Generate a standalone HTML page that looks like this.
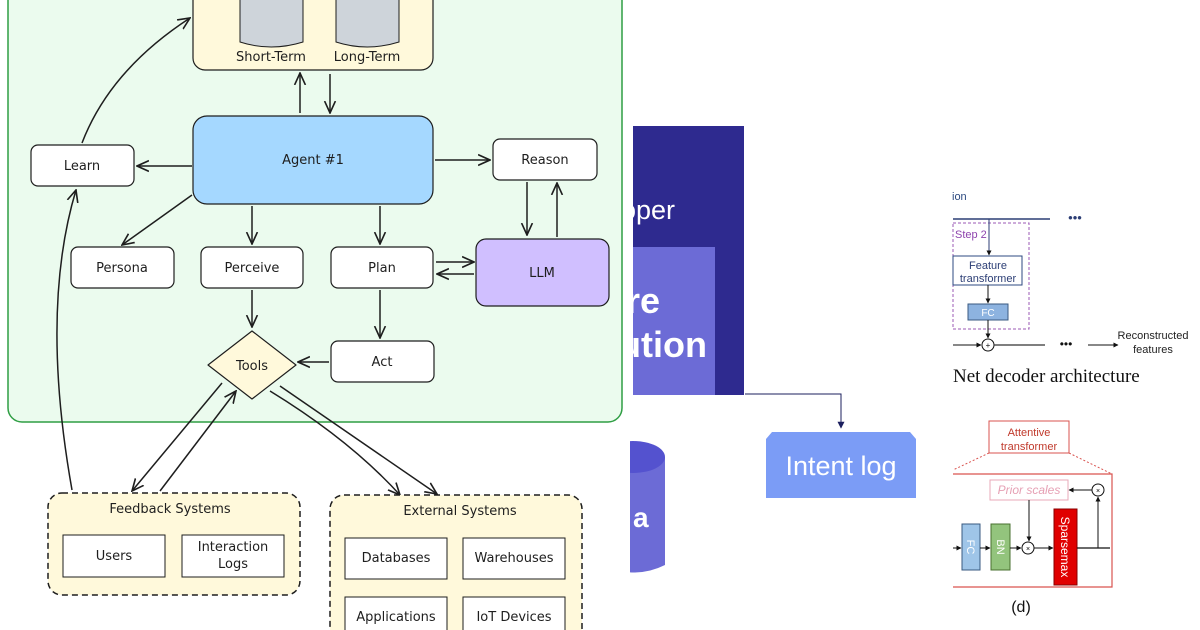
<!DOCTYPE html>
<html><head><meta charset="utf-8"><style>
html,body{margin:0;padding:0;background:#fff;width:1200px;height:630px;overflow:hidden}
svg{display:block}
.h{font-family:"Comic Sans MS","DejaVu Sans",sans-serif;font-size:13px;fill:#1e1e1e;text-anchor:middle}
.s{font-family:"Liberation Sans",sans-serif;text-anchor:middle}
</style></head><body>
<svg width="1200" height="630" viewBox="0 0 1200 630" xmlns="http://www.w3.org/2000/svg">
<defs>
<marker id="a" viewBox="0 0 12 12" refX="11" refY="6" markerWidth="13" markerHeight="13" markerUnits="userSpaceOnUse" orient="auto"><path d="M0,1 L11,6 L0,11" fill="none" stroke="#1e1e1e" stroke-width="1.5"/></marker>
<marker id="b" viewBox="0 0 10 10" refX="9" refY="5" markerWidth="7" markerHeight="7" markerUnits="userSpaceOnUse" orient="auto"><path d="M0,0 L10,5 L0,10z" fill="#1b1f5e"/></marker>
<marker id="c" viewBox="0 0 10 10" refX="9" refY="5" markerWidth="5" markerHeight="5" markerUnits="userSpaceOnUse" orient="auto"><path d="M0,0 L10,5 L0,10z" fill="#111"/></marker>
</defs>
<rect x="8" y="-20" width="614" height="442" rx="14" fill="#ebfbee" stroke="#2f9e44" stroke-width="1.5"/>
<rect x="193" y="-20" width="240" height="90" rx="12" fill="#fff9db" stroke="#1e1e1e" stroke-width="1.2"/>
<path d="M240,-5 V42 Q271,52 303,42 V-5z" fill="#ced4da" stroke="#1e1e1e" stroke-width="1"/>
<path d="M336,-5 V42 Q367,52 399,42 V-5z" fill="#ced4da" stroke="#1e1e1e" stroke-width="1"/>
<text class="h" x="271" y="61" font-size="11">Short-Term</text>
<text class="h" x="367" y="61" font-size="11">Long-Term</text>
<rect x="193" y="116" width="240" height="88" rx="14" fill="#a5d8ff" stroke="#1e1e1e" stroke-width="1.2"/>
<text class="h" x="313" y="164">Agent #1</text>
<g fill="#fff" stroke="#1e1e1e" stroke-width="1.2">
<rect x="31" y="145" width="103" height="41" rx="7"/>
<rect x="493" y="139" width="104" height="41" rx="7"/>
<rect x="71" y="247" width="103" height="41" rx="7"/>
<rect x="201" y="247" width="102" height="41" rx="7"/>
<rect x="331" y="247" width="102" height="41" rx="7"/>
<rect x="331" y="341" width="103" height="41" rx="7"/>
</g>
<rect x="476" y="239" width="133" height="67" rx="10" fill="#d0bfff" stroke="#1e1e1e" stroke-width="1.2"/>
<path d="M252,331 L296,365 L252,399 L208,365z" fill="#fff9db" stroke="#1e1e1e" stroke-width="1.2" stroke-linejoin="round"/>
<text class="h" x="82" y="170">Learn</text>
<text class="h" x="545" y="164">Reason</text>
<text class="h" x="122" y="272">Persona</text>
<text class="h" x="252" y="272">Perceive</text>
<text class="h" x="382" y="272">Plan</text>
<text class="h" x="382" y="366">Act</text>
<text class="h" x="542" y="277">LLM</text>
<text class="h" x="252" y="370">Tools</text>
<g fill="none" stroke="#1e1e1e" stroke-width="1.5" marker-end="url(#a)">
<path d="M300,113 V73"/>
<path d="M330,74 V113"/>
<path d="M192,166 H137"/>
<path d="M435,160 H490"/>
<path d="M192,195 L122,245"/>
<path d="M252,206 V244"/>
<path d="M380,206 V244"/>
<path d="M527,182 V235"/>
<path d="M557,237 V183"/>
<path d="M436,262 H474"/>
<path d="M474,274 H437"/>
<path d="M252,290 V327"/>
<path d="M380,290 V338"/>
<path d="M329,362 H298"/>
<path d="M82,143 Q110,70 190,18"/>
<path d="M72,490 Q40,310 76,190"/>
<path d="M222,383 L132,491"/>
<path d="M160,491 L236,391"/>
<path d="M270,391 Q350,440 400,495"/>
<path d="M280,386 L437,494"/>
</g>
<rect x="48" y="493" width="252" height="102" rx="14" fill="#fff9db" stroke="#1e1e1e" stroke-width="1.5" stroke-dasharray="6,4"/>
<text class="h" x="170" y="513">Feedback Systems</text>
<rect x="63" y="535" width="102" height="42" fill="#fff" stroke="#1e1e1e"/>
<rect x="182" y="535" width="102" height="42" fill="#fff" stroke="#1e1e1e"/>
<text class="h" x="114" y="560">Users</text>
<text class="h" x="233" y="551">Interaction</text>
<text class="h" x="233" y="568">Logs</text>
<rect x="330" y="495" width="252" height="150" rx="14" fill="#fff9db" stroke="#1e1e1e" stroke-width="1.5" stroke-dasharray="6,4"/>
<text class="h" x="460" y="515">External Systems</text>
<rect x="345" y="538" width="102" height="41" fill="#fff" stroke="#1e1e1e"/>
<rect x="463" y="538" width="102" height="41" fill="#fff" stroke="#1e1e1e"/>
<rect x="345" y="597" width="102" height="41" fill="#fff" stroke="#1e1e1e"/>
<rect x="463" y="597" width="102" height="41" fill="#fff" stroke="#1e1e1e"/>
<text class="h" x="396" y="562">Databases</text>
<text class="h" x="514" y="562">Warehouses</text>
<text class="h" x="396" y="621">Applications</text>
<text class="h" x="514" y="621">IoT Devices</text>
<rect x="633" y="126" width="111" height="269" fill="#2e2a8f"/>
<rect x="633" y="247" width="82" height="148" fill="#6c6bd6"/>
<svg x="633" y="126" width="111" height="269" overflow="hidden">
<text x="-12" y="93" font-family="Liberation Sans,sans-serif" font-size="27" fill="#fff">oper</text>
<text x="-7" y="187" font-family="Liberation Sans,sans-serif" font-size="36" font-weight="bold" fill="#fff">re</text>
<text x="-14" y="231" font-family="Liberation Sans,sans-serif" font-size="36" font-weight="bold" fill="#fff">ution</text>
</svg>
<path d="M745,394 H841 V428" fill="none" stroke="#1b1f5e" stroke-width="1" marker-end="url(#b)"/>
<path d="M772,432 H910 L916,439 V498 H766 V439z" fill="#7b9cf6"/>
<text class="s" x="841" y="475" font-size="27" fill="#fff">Intent log</text>
<svg x="630" y="430" width="40" height="150" overflow="hidden">
<path d="M-30,27 V135 Q5,150 35,135 V27z" fill="#6c6bd6"/>
<ellipse cx="3" cy="27" rx="32" ry="16" fill="#5452cf"/>
<text x="3" y="97" font-family="Liberation Sans,sans-serif" font-size="28" font-weight="bold" fill="#fff">a</text>
</svg>
<text x="952" y="200" font-family="Liberation Sans,sans-serif" font-size="11" fill="#2c4a80">ion</text>
<path d="M953,219 H1050" stroke="#2c3e75" stroke-width="1.5"/>
<text x="1075" y="222" class="s" font-size="13" fill="#2c3e75">•••</text>
<rect x="953" y="223" width="76" height="106" fill="none" stroke="#9b59b6" stroke-dasharray="3,2"/>
<text x="955" y="238" font-family="Liberation Sans,sans-serif" font-size="11" fill="#8e44ad">Step 2</text>
<path d="M989,219 V255" stroke="#2c3e75" marker-end="url(#c)"/>
<rect x="953" y="256" width="69" height="29" fill="#fff" stroke="#2c4a80"/>
<text class="s" x="988" y="269" font-size="11" fill="#2c3e75">Feature</text>
<text class="s" x="988" y="282" font-size="11" fill="#2c3e75">transformer</text>
<path d="M988,285 V303" stroke="#111" marker-end="url(#c)"/>
<rect x="968" y="304" width="40" height="16" fill="#8db3e0" stroke="#3a5a80"/>
<text class="s" x="988" y="316" font-size="10" fill="#fff">FC</text>
<path d="M988,320 V338" stroke="#111" marker-end="url(#c)"/>
<path d="M953,345 H981" stroke="#111" marker-end="url(#c)"/>
<circle cx="988" cy="345" r="6" fill="#fff" stroke="#111"/>
<text class="s" x="988" y="348" font-size="8" fill="#111">+</text>
<path d="M994,345 H1045" stroke="#333" stroke-width="1.2"/>
<text class="s" x="1066" y="348" font-size="12" fill="#111">•••</text>
<path d="M1088,345 H1118" stroke="#111" marker-end="url(#c)"/>
<text class="s" x="1153" y="339" font-size="11" fill="#222">Reconstructed</text>
<text class="s" x="1153" y="353" font-size="11" fill="#222">features</text>
<text x="953" y="382" font-family="Liberation Serif,serif" font-size="19" fill="#111">Net decoder architecture</text>
<rect x="989" y="421" width="80" height="32" fill="#fff" stroke="#d9534f"/>
<text class="s" x="1029" y="436" font-size="11" fill="#c0392b">Attentive</text>
<text class="s" x="1029" y="450" font-size="11" fill="#c0392b">transformer</text>
<path d="M989,453 L953,470 M1069,453 L1112,474" stroke="#d9534f" stroke-dasharray="2,2"/>
<path d="M953,474 H1112 V587 H953" fill="none" stroke="#d9534f" stroke-width="1.2"/>
<rect x="990" y="480" width="78" height="20" fill="#fff" stroke="#e8aab8"/>
<text class="s" x="1029" y="494" font-size="12" font-style="italic" fill="#e6a0b4">Prior scales</text>
<circle cx="1098" cy="490" r="6" fill="#fff" stroke="#111"/>
<text class="s" x="1098" y="493" font-size="7">×</text>
<path d="M1092,490 H1069" stroke="#111" marker-end="url(#c)"/>
<path d="M1029,500 V541" stroke="#111" marker-end="url(#c)"/>
<path d="M953,548 H961" stroke="#111" marker-end="url(#c)"/>
<rect x="962" y="524" width="18" height="46" fill="#9fc5e8" stroke="#3a5a80"/>
<path d="M980,548 H990" stroke="#111" marker-end="url(#c)"/>
<rect x="991" y="524" width="19" height="46" fill="#93c47d" stroke="#4a7030"/>
<path d="M1010,548 H1021" stroke="#111" marker-end="url(#c)"/>
<circle cx="1028" cy="548" r="6" fill="#fff" stroke="#111"/>
<text class="s" x="1028" y="551" font-size="7">×</text>
<path d="M1034,548 H1053" stroke="#111" marker-end="url(#c)"/>
<rect x="1054" y="509" width="23" height="76" fill="#e00000" stroke="#800"/>
<path d="M1077,548 H1110" stroke="#111" stroke-width="1.2"/>
<path d="M1098,548 V497" stroke="#111" marker-end="url(#c)"/>
<text transform="translate(1061,547) rotate(90)" class="s" font-size="12" fill="#fff">Sparsemax</text>
<text transform="translate(967,547) rotate(90)" class="s" font-size="11" fill="#fff">FC</text>
<text transform="translate(997,547) rotate(90)" class="s" font-size="11" fill="#fff">BN</text>
<text class="s" x="1021" y="612" font-family="Liberation Serif,serif" font-size="16" fill="#111">(d)</text>
</svg>
</body></html>
